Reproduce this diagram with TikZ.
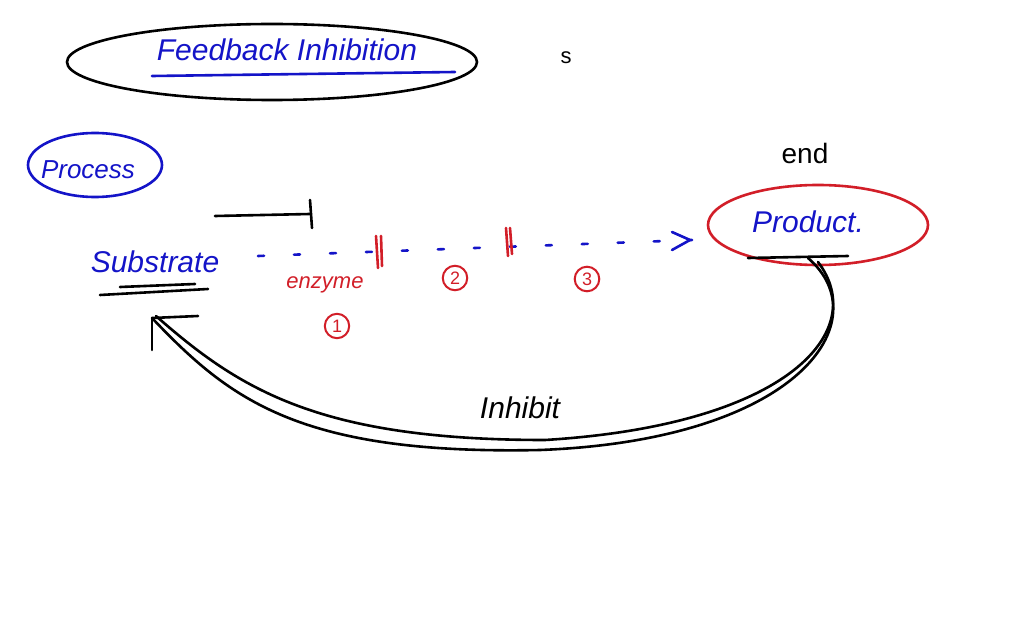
\documentclass[tikz,border=0pt]{standalone}
\usepackage{fontspec}
\setmainfont{Liberation Sans}
\usetikzlibrary{arrows.meta}
\definecolor{pblue}{RGB}{20,20,200}
\definecolor{pred}{RGB}{210,30,40}
\begin{document}
\begin{tikzpicture}[x=1pt,y=-1pt,
  ink/.style={line width=2.6pt,line cap=round},
  btext/.style={text=pblue,font=\fontsize{30}{34}\selectfont\itshape},
  rtext/.style={text=pred,font=\fontsize{22}{26}\selectfont\itshape},
  circnum/.style={circle,draw=pred,line width=2pt,text=pred,inner sep=3pt,font=\fontsize{18}{20}\selectfont}]
\useasboundingbox[fill=white] (0,0) rectangle (1024,628);
% title
\node[btext] (title) at (287,50) {Feedback Inhibition};
\draw[ink] (272,62) ellipse (205 and 38);
\draw[ink,pblue] (152,76) -- (455,72);
\node[font=\fontsize{22}{24}\selectfont] (s) at (566,58) {s};
% process
\node[btext,font=\fontsize{26}{30}\selectfont\itshape] (proc) at (88,170) {Process};
\draw[ink,pblue] (95,165) ellipse (67 and 32);
% product
\node[font=\fontsize{28}{32}\selectfont] (end) at (805,153) {end};
\node[btext] (prod) at (808,222) {Product.};
\draw[ink,pred] (818,225) ellipse (110 and 40);
\draw[ink] (748,258) -- (848,256);
% substrate
\node[btext] (sub) at (155,262) {Substrate};
\draw[ink] (100,295) -- (208,289);
\draw[ink] (120,287) -- (195,284);
% inhibit bar
\coordinate (b1) at (215,216);
\coordinate (b2) at (310,214);
\draw[ink] (b1) -- (b2);
\draw[ink] (310,200) -- (312,228);
% pathway
\coordinate (p1) at (258,256);
\coordinate (p2) at (692,240);
\draw[ink,pblue,dash pattern=on 6pt off 30pt] (p1) -- (p2);
\draw[ink,pblue] (672,232) -- (690,240) -- (672,250);
% enzymes
\draw[ink,pred] (376,236) -- (378,268);
\draw[ink,pred] (381,236) -- (382,266);
\draw[ink,pred] (506,228) -- (508,256);
\draw[ink,pred] (510,228) -- (512,254);
\node[rtext] (enz) at (325,285) {enzyme};
\node[circnum] (n1) at (337,326) {1};
\node[circnum] (n2) at (455,278) {2};
\node[circnum] (n3) at (587,279) {3};
% feedback arrow
\coordinate (fa) at (808,258);
\coordinate (fb) at (152,318);
\draw[ink] (fa) .. controls (880,320) and (800,440) .. (540,450) .. controls (300,455) and (230,400) .. (fb);
\draw[ink] (818,262) .. controls (870,330) and (790,425) .. (545,440) .. controls (320,440) and (240,390) .. (156,316);
\draw[ink] (fb) -- (152,350);
\draw[ink] (fb) -- (198,316);
\node[font=\fontsize{30}{34}\selectfont\itshape] (inh) at (520,408) {Inhibit};
\end{tikzpicture}
\end{document}
